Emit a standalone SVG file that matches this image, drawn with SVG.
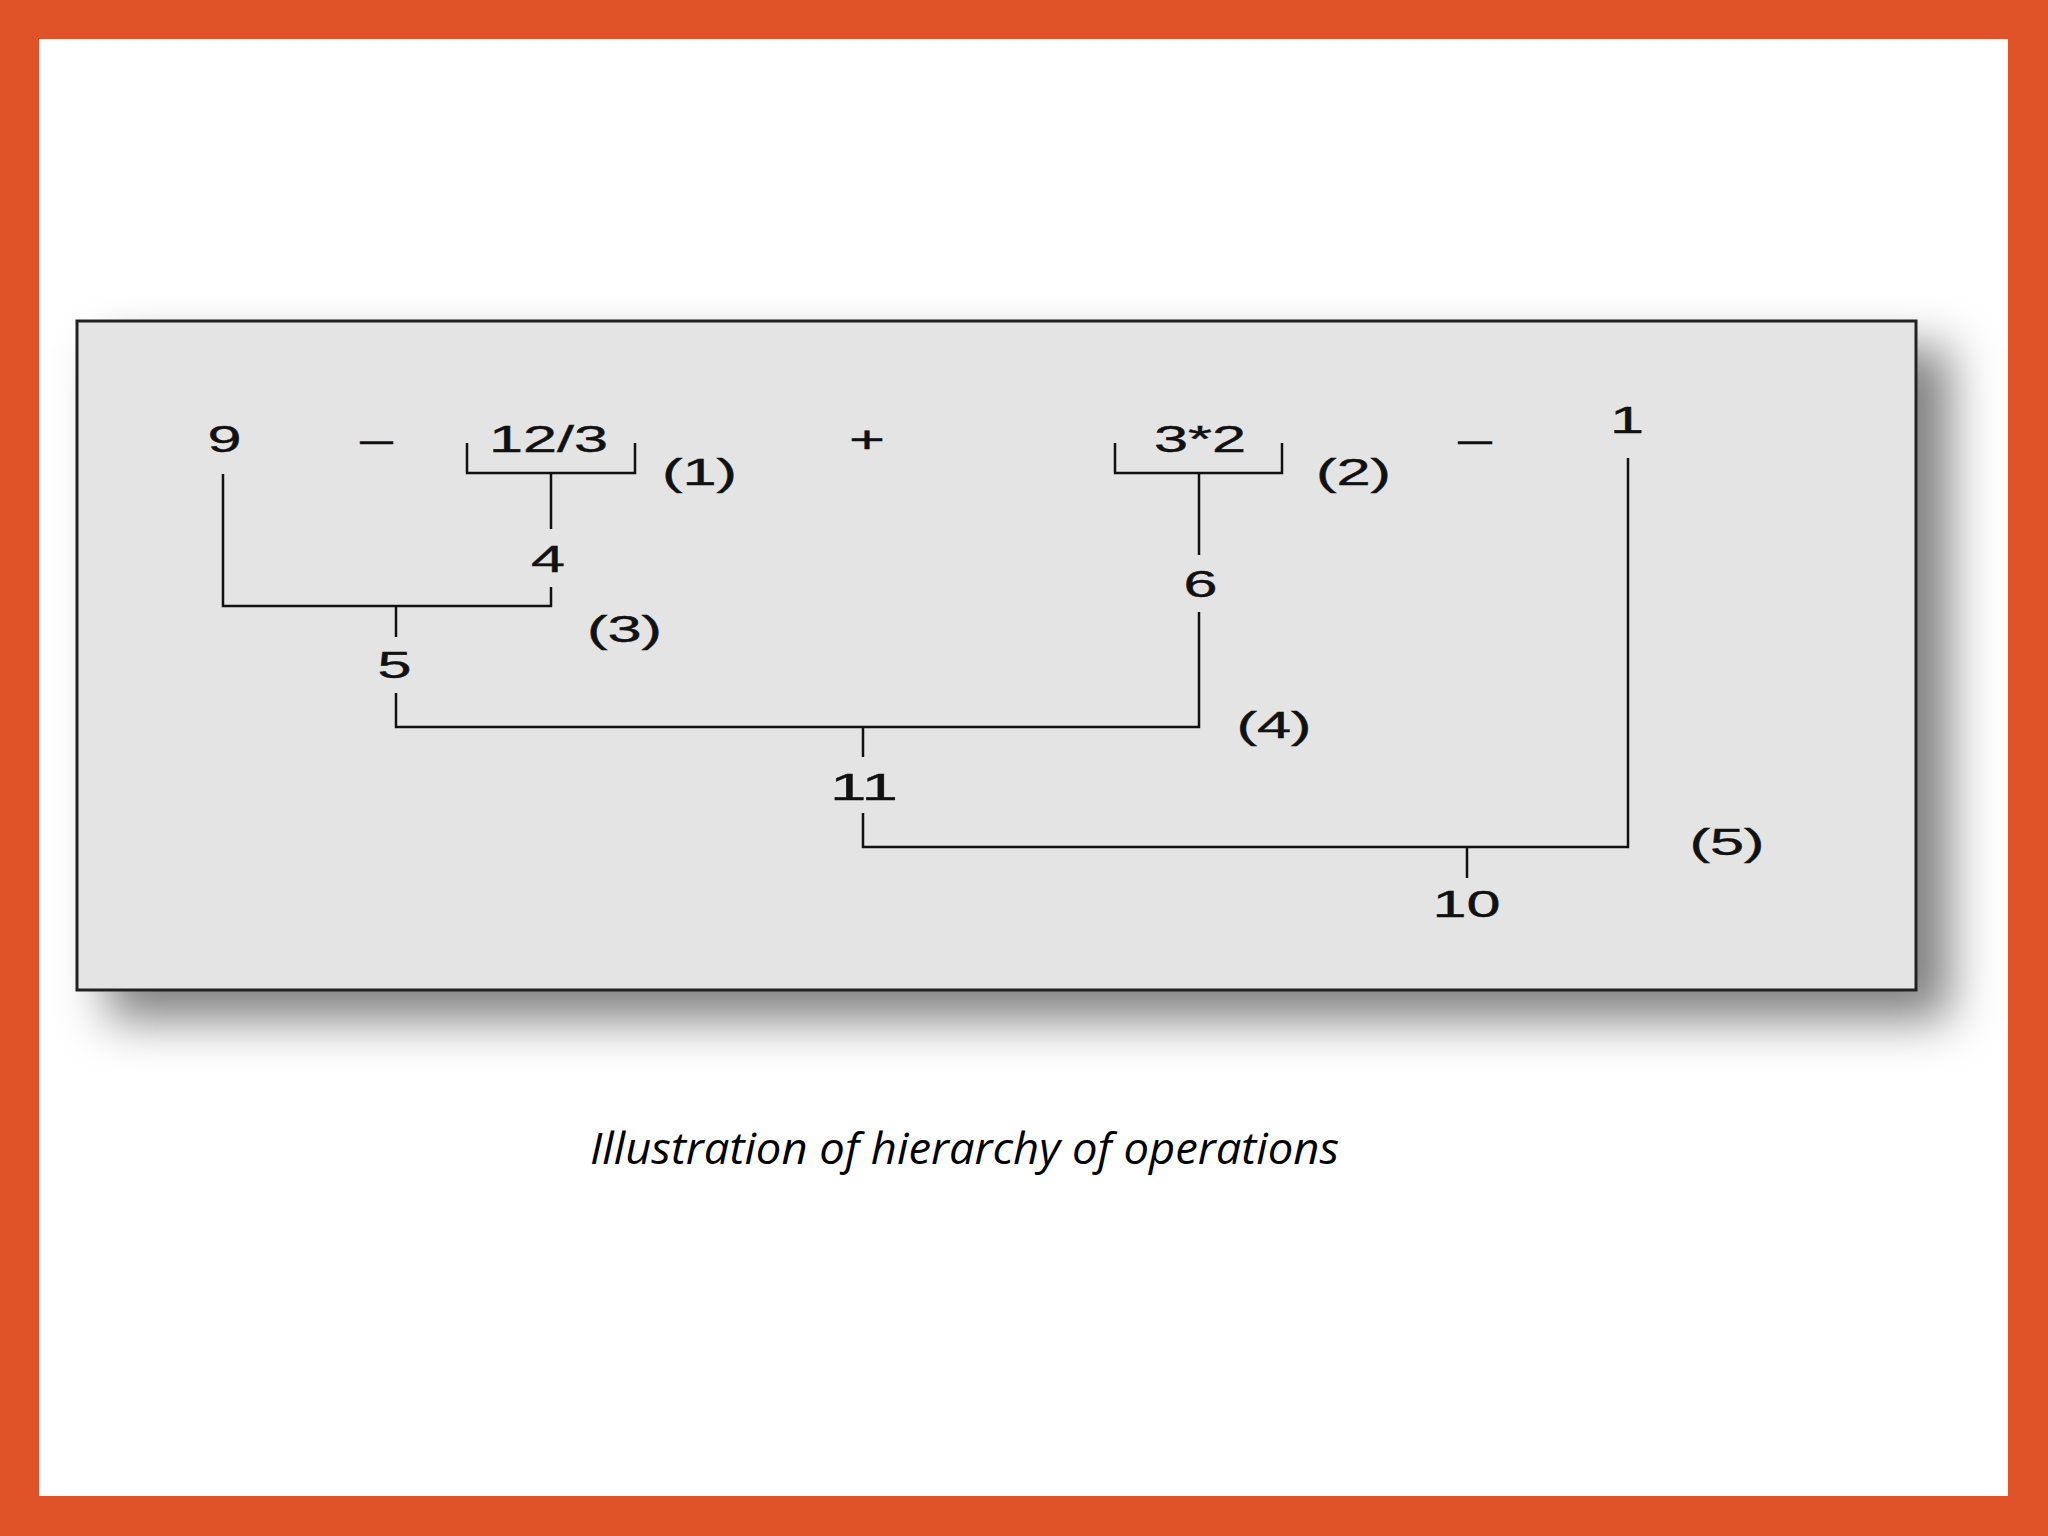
<svg xmlns="http://www.w3.org/2000/svg" width="2048" height="1536" viewBox="0 0 2048 1536">
<defs>
<filter id="sh" x="-5%" y="-10%" width="115%" height="130%">
<feDropShadow dx="32" dy="28" stdDeviation="24" flood-color="#000" flood-opacity="0.5"/>
</filter>
<style>
.t{font-family:"Liberation Sans",Arial,sans-serif;font-size:37px;fill:#111;stroke:#111;stroke-width:0.4;text-anchor:middle}
.c{stroke:#111;stroke-width:2.5;fill:none}
.cap{font-family:"Open Sans","Noto Sans",sans-serif;font-style:italic;font-size:43px;fill:#000}
</style>
</defs>
<rect x="0" y="0" width="2048" height="1536" fill="#E05328"/>
<rect x="39" y="39" width="1969" height="1457" fill="#ffffff"/>
<rect x="77" y="321" width="1839" height="669" fill="#e4e4e4" stroke="#222" stroke-width="3" filter="url(#sh)"/>
<g id="connectors">
<path class="c" d="M467 443 V473 H635 V443"/>
<path class="c" d="M551 473 V529"/>
<path class="c" d="M223 474 V606 H551 V587"/>
<path class="c" d="M396 606 V637"/>
<path class="c" d="M1115 443 V473 H1282 V443"/>
<path class="c" d="M1199 473 V555"/>
<path class="c" d="M396 693 V727 H1199 V612"/>
<path class="c" d="M863 727 V757"/>
<path class="c" d="M863 813 V847 H1628 V458"/>
<path class="c" d="M1467 847 V878"/>
</g>
<g id="n9"><text class="t" x="224.5" y="452" textLength="34" lengthAdjust="spacingAndGlyphs">9</text></g>
<g id="op-minus1"><text class="t" x="376.5" y="452" textLength="33" lengthAdjust="spacingAndGlyphs">—</text></g>
<g id="n12div3"><text class="t" x="548.5" y="452" textLength="119" lengthAdjust="spacingAndGlyphs">12/3</text></g>
<g id="step1"><text class="t" x="699.5" y="485" textLength="75" lengthAdjust="spacingAndGlyphs">(1)</text></g>
<g id="op-plus"><text class="t" x="867" y="452" textLength="36" lengthAdjust="spacingAndGlyphs">+</text></g>
<g id="n3x2"><text class="t" x="1200" y="452" textLength="92" lengthAdjust="spacingAndGlyphs">3*2</text></g>
<g id="step2"><text class="t" x="1353.5" y="485" textLength="75" lengthAdjust="spacingAndGlyphs">(2)</text></g>
<g id="op-minus2"><text class="t" x="1475" y="452" textLength="34" lengthAdjust="spacingAndGlyphs">—</text></g>
<g id="n1"><text class="t" x="1627" y="433" textLength="34" lengthAdjust="spacingAndGlyphs">1</text></g>
<g id="n4"><text class="t" x="548" y="572" textLength="34" lengthAdjust="spacingAndGlyphs">4</text></g>
<g id="n6"><text class="t" x="1200.5" y="597" textLength="34" lengthAdjust="spacingAndGlyphs">6</text></g>
<g id="step3"><text class="t" x="624.5" y="642" textLength="75" lengthAdjust="spacingAndGlyphs">(3)</text></g>
<g id="n5"><text class="t" x="394.5" y="678" textLength="34" lengthAdjust="spacingAndGlyphs">5</text></g>
<g id="step4"><text class="t" x="1274" y="738" textLength="75" lengthAdjust="spacingAndGlyphs">(4)</text></g>
<g id="n11"><text class="t" x="864" y="800" textLength="68" lengthAdjust="spacingAndGlyphs">11</text></g>
<g id="step5"><text class="t" x="1727" y="855" textLength="75" lengthAdjust="spacingAndGlyphs">(5)</text></g>
<g id="n10"><text class="t" x="1466.5" y="917" textLength="68" lengthAdjust="spacingAndGlyphs">10</text></g>
<g id="caption"><text class="cap" x="590" y="1164" textLength="749" lengthAdjust="spacingAndGlyphs">Illustration of hierarchy of operations</text></g>
</svg>
